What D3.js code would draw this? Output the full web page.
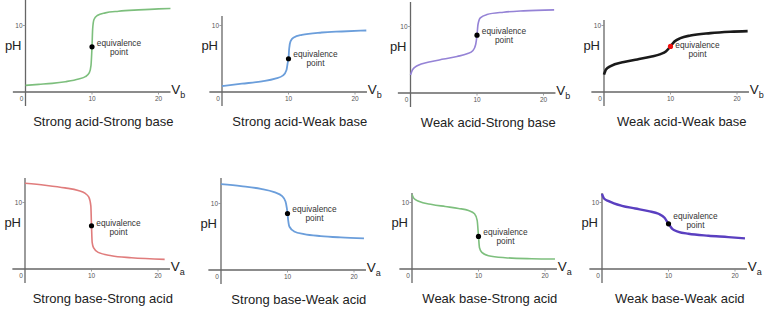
<!DOCTYPE html>
<html>
<head>
<meta charset="utf-8">
<script src="https://cdn.jsdelivr.net/npm/d3@7"></script>
<style>
  body { margin: 0; background: #fff; }
  svg { display: block; font-family: "Liberation Sans", Arial, sans-serif; }
</style>
</head>
<body>
<div id="chart-area"></div>
<script>

// SVG Size
var width = 768,
    height = 311;

// Titles of the eight panels
var titles = ["Strong acid-Strong base", "Strong acid-Weak base", "Weak acid-Strong base", "Weak acid-Weak base",
              "Strong base-Strong acid", "Strong base-Weak acid", "Weak base-Strong acid", "Weak base-Weak acid"];

// Titrant on the x axis (b = base added, a = acid added)
var titrant = ["b", "b", "b", "b", "a", "a", "a", "a"];

// Tick labels
var xTicks = [0, 10, 20];
var yTicks = [10];

// Volume at the equivalence point and pH there
var eqVolume = 10;
var eqPH = [6.8, 5.0, 8.7, 6.85, 6.5, 8.5, 4.9, 6.8];

// Titration curves, [volume, pH]
var curveSASB = [[0,1.0],[2,1.15],[4,1.3],[6,1.55],[8,1.95],[9,2.3],[9.6,2.9],[9.85,4],[10,6.8],[10.1,9.5],[10.3,10.9],[10.8,11.5],[12,11.9],[14,12.15],[17,12.35],[20,12.5],[21.8,12.55]];
var curveSAWB = [[0,0.9],[3,1.25],[6,1.6],[8,2.0],[9.2,2.5],[9.7,3.3],[9.9,4.5],[10,5.0],[10.1,6.5],[10.3,7.6],[10.8,8.2],[12,8.6],[15,8.95],[18,9.1],[21.7,9.25]];
var curveWASB = [[0,2.7],[0.3,3.5],[1,4.1],[3,4.7],[5,5.1],[7,5.5],[8.5,5.9],[9.4,6.4],[9.8,7.3],[10,8.7],[10.15,10.3],[10.5,11.3],[11.5,11.8],[14,12.15],[17,12.35],[21.6,12.5]];
var curveWAWB = [[0,2.6],[0.3,3.4],[1,3.9],[3,4.5],[5,4.9],[7,5.3],[8.5,5.7],[9.3,6.1],[10,6.85],[10.6,7.6],[11.5,8.1],[13,8.5],[16,8.85],[19,9.05],[21.6,9.15]];
var curveSBSA = [[0,12.9],[3,12.6],[6,12.2],[8,11.8],[9,11.4],[9.6,10.8],[9.9,9.5],[10,6.5],[10.1,4],[10.3,3.2],[11,2.5],[13,2.0],[16,1.7],[21,1.45]];
var curveSBWA = [[0,12.9],[3,12.6],[6,12.2],[8,11.7],[9.2,11.1],[9.7,10.3],[9.9,9.3],[10,8.5],[10.1,7.5],[10.3,6.5],[11,5.8],[12.5,5.4],[15,5.1],[18,4.9],[21.5,4.75]];
var curveWBSA = [[0,11.2],[0.3,10.6],[1,10.2],[3,9.7],[5,9.4],[7,9.1],[8.5,8.8],[9.4,8.3],[9.8,7.3],[10,4.9],[10.15,3.2],[10.5,2.5],[11.5,2.0],[14,1.7],[18,1.55],[21.5,1.5]];
var curveWBWA = [[0,11.3],[0.3,10.6],[1,10.2],[3,9.5],[5,9.1],[7,8.7],[8.5,8.3],[9.4,7.7],[10,6.8],[10.6,6.0],[11.5,5.6],[13,5.3],[16,5.0],[19,4.8],[21.5,4.6]];

var curves = [curveSASB, curveSAWB, curveWASB, curveWAWB, curveSBSA, curveSBWA, curveWBSA, curveWBWA];

// Panel layout: origin of each little plot and top of its y axis
var panels = [
    {ox: 25.5, oy: 92, top: 0,   color: "#7dbf7d", lw: 1.6, dot: "#000", ldy: -3},
    {ox: 222,  oy: 92, top: 16,  color: "#6b9edb", lw: 1.8, dot: "#000", ldy: -4},
    {ox: 410.5,oy: 93, top: 2,   color: "#9583d6", lw: 1.6, dot: "#000", ldy: -3},
    {ox: 604,  oy: 92, top: 20,  color: "#1a1a1a", lw: 2.6, dot: "#f01010", ldy: 0},
    {ox: 25,   oy: 269, top: 178, color: "#e07c7c", lw: 1.6, dot: "#000", ldy: -2},
    {ox: 221,  oy: 270, top: 178, color: "#6b9edb", lw: 1.8, dot: "#000", ldy: -3},
    {ox: 412,  oy: 269, top: 193, color: "#7dbf7d", lw: 1.6, dot: "#000", ldy: -3},
    {ox: 602,  oy: 269, top: 193, color: "#5a3fc0", lw: 2.4, dot: "#000", ldy: -7}
];

var svg = d3.select("#chart-area")
    .append("svg")
    .attr("width", width)
    .attr("height", height);

panels.forEach(function(p, i) {

    // 10 units of volume and 10 pH units are both about 66.5 px
    var x = d3.scaleLinear().domain([0, 10]).range([p.ox, p.ox + 66.5]);
    var y = d3.scaleLinear().domain([0, 10]).range([p.oy, p.oy - 66.5]);

    var g = svg.append("g").attr("class", "panel");

    // Axes lines
    g.append("line")
        .attr("x1", x(-1.9)).attr("x2", x(21.8))
        .attr("y1", y(0)).attr("y2", y(0))
        .attr("stroke", "#666").attr("stroke-width", 1.3);
    g.append("line")
        .attr("x1", x(0)).attr("x2", x(0))
        .attr("y1", p.top).attr("y2", y(0) + 14)
        .attr("stroke", "#666").attr("stroke-width", 1.3);

    // x ticks
    g.selectAll(".xt").data(xTicks.filter(function(d) { return d > 0; }))
        .enter().append("line")
        .attr("x1", d => x(d)).attr("x2", d => x(d))
        .attr("y1", y(0)).attr("y2", y(0) + 2.5)
        .attr("stroke", "#888").attr("stroke-width", 0.8);
    g.selectAll(".xl").data(xTicks)
        .enter().append("text")
        .attr("x", d => d === 0 ? x(d) - 4 : x(d))
        .attr("y", y(0) + 8.5)
        .attr("text-anchor", "middle")
        .attr("font-size", 6.5)
        .attr("fill", "#555")
        .text(d => d);

    // y ticks
    g.selectAll(".yt").data(yTicks)
        .enter().append("line")
        .attr("x1", x(0) - 2.5).attr("x2", x(0))
        .attr("y1", d => y(d)).attr("y2", d => y(d))
        .attr("stroke", "#888").attr("stroke-width", 0.8);
    g.selectAll(".yl").data(yTicks)
        .enter().append("text")
        .attr("x", x(0) - 3)
        .attr("y", d => y(d) + 2.2)
        .attr("text-anchor", "end")
        .attr("font-size", 6.5)
        .attr("fill", "#555")
        .text(d => d);

    // Axis labels
    g.append("text")
        .attr("x", x(0) - 4)
        .attr("y", y(6.3))
        .attr("text-anchor", "end")
        .attr("font-size", 13)
        .attr("fill", "#222")
        .text("pH");

    var vlab = g.append("text")
        .attr("x", x(21.9))
        .attr("y", y(0) + 1.5)
        .attr("font-size", 13.5)
        .attr("fill", "#222");
    vlab.append("tspan").text("V");
    vlab.append("tspan").attr("font-size", 9).attr("dy", 4).text(titrant[i]);

    // Titration curve
    var line = d3.line()
        .x(d => x(d[0]))
        .y(d => y(d[1]))
        .curve(d3.curveMonotoneX);

    g.append("path")
        .datum(curves[i])
        .attr("d", line)
        .attr("fill", "none")
        .attr("stroke", p.color)
        .attr("stroke-width", p.lw);

    // Equivalence point
    g.append("circle")
        .attr("cx", x(eqVolume))
        .attr("cy", y(eqPH[i]))
        .attr("r", 2.6)
        .attr("fill", p.dot);

    var lab = g.append("text")
        .attr("text-anchor", "middle")
        .attr("font-size", 8.3)
        .attr("fill", "#333");
    lab.append("tspan")
        .attr("x", x(eqVolume) + 27)
        .attr("y", y(eqPH[i]) + p.ldy + 2)
        .text("equivalence");
    lab.append("tspan")
        .attr("x", x(eqVolume) + 27)
        .attr("dy", 9)
        .text("point");

    // Title under the plot
    g.append("text")
        .attr("x", x(11.7))
        .attr("y", y(0) + 34)
        .attr("text-anchor", "middle")
        .attr("font-size", 13)
        .attr("fill", "#222")
        .text(titles[i]);
});

</script>
</body>
</html>
